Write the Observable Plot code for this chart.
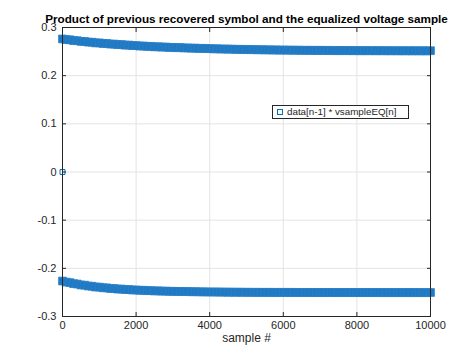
<!DOCTYPE html>
<html>
<head>
<meta charset="utf-8">
<script src="https://cdn.jsdelivr.net/npm/d3@7"></script>
<script src="https://cdn.jsdelivr.net/npm/@observablehq/plot@0.6"></script>
<style>
  html, body { margin: 0; padding: 0; background: white; }
  #wrap { position: relative; width: 474px; height: 355px; font-family: "Liberation Sans", Arial, sans-serif; }
  #legend { position: absolute; left: 272px; top: 105px; width: 131px; height: 12px; padding: 0 0 0 4px; border: 1px solid #262626; background: white; font-size: 9.8px; color: #262626; line-height: 12px; white-space: nowrap; }
  #legend .sw { display: inline-block; width: 4px; height: 4px; border: 1px solid #0072BD; margin-right: 4px; vertical-align: 0px; }
</style>
</head>
<body>
<div id="wrap"></div>
<script>
const titleText = "Product of previous recovered symbol and the equalized voltage sample";
const xLabel = "sample #";
const legendLabel = "data[n-1] * vsampleEQ[n]";
const xTicks = [0, 2000, 4000, 6000, 8000, 10000];
const yTicks = [-0.3, -0.2, -0.1, 0, 0.1, 0.2, 0.3];
const sampleStep = 100;
// upper band (every 100 samples)
const upper = [
 0.2762, 0.2748, 0.2745, 0.2729, 0.2726, 0.2712, 0.2710, 0.2696, 0.2695, 0.2680,
 0.2681, 0.2668, 0.2669, 0.2655, 0.2656, 0.2644, 0.2646, 0.2633, 0.2636, 0.2624,
 0.2625, 0.2614, 0.2617, 0.2607, 0.2609, 0.2598, 0.2601, 0.2592, 0.2595, 0.2585,
 0.2588, 0.2580, 0.2584, 0.2575, 0.2577, 0.2570, 0.2573, 0.2565, 0.2568, 0.2561,
 0.2563, 0.2556, 0.2559, 0.2552, 0.2555, 0.2549, 0.2552, 0.2545, 0.2548, 0.2542,
 0.2546, 0.2539, 0.2543, 0.2536, 0.2540, 0.2534, 0.2538, 0.2531, 0.2536, 0.2529,
 0.2534, 0.2528, 0.2532, 0.2526, 0.2531, 0.2524, 0.2529, 0.2523, 0.2528, 0.2521,
 0.2527, 0.2520, 0.2526, 0.2519, 0.2525, 0.2518, 0.2524, 0.2518, 0.2523, 0.2517,
 0.2523, 0.2516, 0.2522, 0.2516, 0.2521, 0.2515, 0.2521, 0.2515, 0.2520, 0.2514,
 0.2520, 0.2514, 0.2519, 0.2514, 0.2519, 0.2513, 0.2519, 0.2513, 0.2518, 0.2513,
 0.2518
];
// lower band (every 100 samples)
const lower = [
 -0.2264, -0.2286, -0.2297, -0.2318, -0.2326, -0.2345, -0.2350, -0.2367, -0.2372, -0.2388,
 -0.2390, -0.2404, -0.2405, -0.2418, -0.2419, -0.2431, -0.2430, -0.2441, -0.2440, -0.2450,
 -0.2448, -0.2457, -0.2455, -0.2464, -0.2462, -0.2470, -0.2467, -0.2474, -0.2472, -0.2478,
 -0.2476, -0.2481, -0.2479, -0.2484, -0.2482, -0.2487, -0.2484, -0.2489, -0.2487, -0.2491,
 -0.2489, -0.2493, -0.2490, -0.2495, -0.2492, -0.2497, -0.2493, -0.2498, -0.2494, -0.2499,
 -0.2495, -0.2500, -0.2496, -0.2501, -0.2497, -0.2501, -0.2497, -0.2502, -0.2498, -0.2502,
 -0.2498, -0.2503, -0.2498, -0.2503, -0.2499, -0.2503, -0.2499, -0.2504, -0.2499, -0.2504,
 -0.2500, -0.2504, -0.2500, -0.2504, -0.2500, -0.2505, -0.2500, -0.2505, -0.2500, -0.2505,
 -0.2500, -0.2505, -0.2501, -0.2505, -0.2501, -0.2505, -0.2501, -0.2506, -0.2501, -0.2506,
 -0.2501, -0.2506, -0.2501, -0.2506, -0.2501, -0.2506, -0.2502, -0.2506, -0.2502, -0.2506,
 -0.2502
];
const firstPoint = [{n: 0, v: 0}];

const pts = [];
upper.forEach((v, i) => pts.push({n: i * sampleStep, v}));
lower.forEach((v, i) => pts.push({n: i * sampleStep, v}));

const blue = "#0072BD";
const fmt = d => (Math.round(d * 10) / 10).toString();

const chart = Plot.plot({
  width: 474, height: 355,
  marginLeft: 62, marginRight: 44, marginTop: 27, marginBottom: 39,
  style: {fontFamily: "'Liberation Sans', Arial, sans-serif", fontSize: "11px", color: "#262626", background: "white"},
  x: {domain: [0, 10000]},
  y: {domain: [-0.3, 0.3]},
  marks: [
    Plot.gridX(xTicks, {stroke: "#e3e3e3", strokeOpacity: 1}),
    Plot.gridY(yTicks, {stroke: "#e3e3e3", strokeOpacity: 1}),
    Plot.dot(pts, {x: "n", y: "v", symbol: "square", r: 4.4, stroke: "#2a80c8", strokeWidth: 0.8, fill: "#2079c3"}),
    Plot.dot(firstPoint, {x: "n", y: "v", symbol: "square", r: 2.8, stroke: blue, strokeWidth: 1, fill: "none"}),
    Plot.frame({stroke: "#262626", strokeWidth: 1}),
    Plot.axisX(xTicks, {anchor: "bottom", tickSize: -4, tickPadding: 9, tickFormat: d => String(d), label: null, fontSize: 11}),
    Plot.axisX(xTicks, {anchor: "top", tickSize: -4, tickFormat: () => "", label: null}),
    Plot.axisY(yTicks, {anchor: "left", tickSize: -4, tickPadding: 10, tickFormat: fmt, label: null, fontSize: 11}),
    Plot.axisY(yTicks, {anchor: "right", tickSize: -4, tickFormat: () => "", label: null}),
    Plot.text([titleText], {frameAnchor: "top", dy: -13, fontWeight: "bold", fontSize: 11.7, fill: "black"}),
    Plot.text([xLabel], {frameAnchor: "bottom", dy: 25, fontSize: 12, fill: "#262626"})
  ]
});
const wrap = document.getElementById("wrap");
wrap.appendChild(chart);
const lg = document.createElement("div");
lg.id = "legend";
lg.innerHTML = '<span class="sw"></span>' + legendLabel;
wrap.appendChild(lg);
</script>
</body>
</html>
